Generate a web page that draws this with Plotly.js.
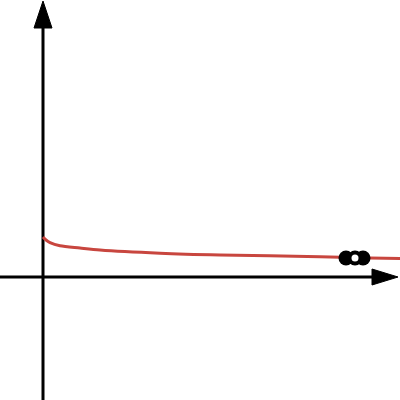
<!DOCTYPE html>
<html>
<head>
<meta charset="utf-8">
<script src="https://cdn.plot.ly/plotly-3.0.1.min.js"></script>
<style>html,body{margin:0;padding:0;background:#fff}#chart{width:400px;height:400px}</style>
</head>
<body>
<div id="chart"></div>
<script>
var curveX = [0, 0.075, 0.175, 0.425, 0.925, 1.425, 2.925, 4.425, 6.925, 8.175, 8.925];
var curveY = [1.0, 0.925, 0.86, 0.78, 0.725, 0.675, 0.595, 0.55, 0.508, 0.475, 0.463];
var filledX = [7.575, 7.8, 8.0];
var filledY = [0.475, 0.475, 0.475];
var openX = [7.8];
var openY = [0.475];

var traces = [
  {x: curveX, y: curveY, mode: 'lines', line: {color: '#c8463f', width: 3, shape: 'spline', smoothing: 0.8}, hoverinfo: 'skip'},
  {x: filledX, y: filledY, mode: 'markers', marker: {color: '#000', size: 15}, hoverinfo: 'skip'},
  {x: openX, y: openY, mode: 'markers', marker: {color: '#fff', size: 7}, hoverinfo: 'skip'}
];

var axisHidden = {showgrid: false, zeroline: false, showticklabels: false, showline: false, ticks: ''};
var layout = {
  width: 400, height: 400,
  margin: {l: 0, r: 0, t: 0, b: 0},
  paper_bgcolor: '#fff', plot_bgcolor: '#fff',
  showlegend: false,
  xaxis: Object.assign({range: [-1.075, 8.925]}, axisHidden),
  yaxis: Object.assign({range: [-3.075, 6.925]}, axisHidden),
  shapes: [
    {type: 'line', xref: 'paper', yref: 'paper', x0: 0, x1: 0.94, y0: 0.3075, y1: 0.3075, line: {color: '#000', width: 3}, layer: 'below'},
    {type: 'path', xref: 'paper', yref: 'paper', path: 'M 0.995 0.3075 L 0.93 0.3275 L 0.93 0.2875 Z', fillcolor: '#000', line: {color: '#000', width: 1}},
    {type: 'line', xref: 'paper', yref: 'paper', x0: 0.1075, x1: 0.1075, y0: 0, y1: 0.935, line: {color: '#000', width: 3}, layer: 'below'},
    {type: 'path', xref: 'paper', yref: 'paper', path: 'M 0.1075 0.9975 L 0.085 0.93 L 0.13 0.93 Z', fillcolor: '#000', line: {color: '#000', width: 1}}
  ]
};
Plotly.newPlot('chart', traces, layout, {staticPlot: true, displayModeBar: false});
</script>
</body>
</html>
